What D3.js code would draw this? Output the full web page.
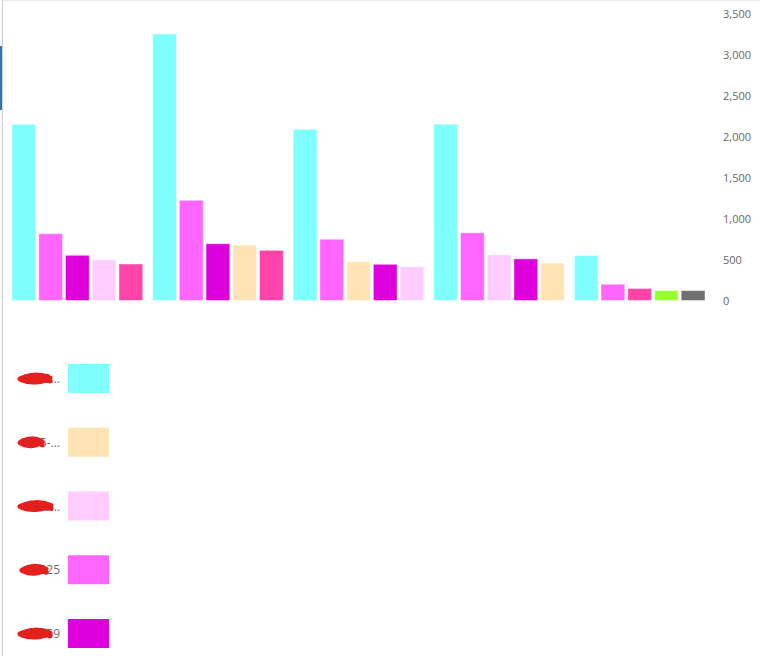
<!DOCTYPE html>
<html>
<head>
<meta charset="utf-8">
<script src="https://cdn.jsdelivr.net/npm/d3@7/dist/d3.min.js"></script>
<style>
  html, body { margin: 0; padding: 0; background: #fff; }
  svg { display: block; }
</style>
</head>
<body>
<svg id="chart" width="760" height="656"></svg>
<script>
// ---- data ----
const categories = ["Group 1", "Group 2", "Group 3", "Group 4", "Group 5"];
const seriesNames = ["2345...", "1015-...", "3120...", "31025", "2259", "Series F", "Series G", "Series H"];
const seriesColors = ["#80ffff", "#ffe4b5", "#ffccff", "#ff66ff", "#dd00dd", "#ff44aa", "#99ff33", "#707070"];
// values per series across the five categories (null = not present)
const valuesCyan      = [2152, 3256, 2091, 2154, 550];
const valuesBeige     = [null, 678, 474, 456, null];
const valuesLightPink = [495, null, 413, 558, null];
const valuesMagenta   = [816, 1224, 748, 827, 199];
const valuesPurple    = [552, 694, 442, 509, null];
const valuesHotPink   = [446, 613, null, null, 147];
const valuesGreen     = [null, null, null, null, 122];
const valuesGray      = [null, null, null, null, 121];
const seriesValues = [valuesCyan, valuesBeige, valuesLightPink, valuesMagenta, valuesPurple, valuesHotPink, valuesGreen, valuesGray];
const yTicks = [0, 500, 1000, 1500, 2000, 2500, 3000, 3500];
const legendCount = 5;

// ---- build per-category bars, sorted descending ----
const groups = categories.map((c, ci) => {
  const items = seriesValues.map((vals, si) => ({ series: si, value: vals[ci] }))
    .filter(d => d.value != null)
    .sort((a, b) => b.value - a.value);
  return { category: c, items };
});

const svg = d3.select("#chart");
const W = 760, H = 656;

// frame decorations
svg.append("line").attr("x1", 3).attr("x2", W).attr("y1", 0.5).attr("y2", 0.5)
  .attr("stroke", "#ececec").attr("stroke-width", 1);
svg.append("line").attr("x1", 2.5).attr("x2", 2.5).attr("y1", 0).attr("y2", H)
  .attr("stroke", "#cfcfcf").attr("stroke-width", 1.2);
svg.append("rect").attr("x", 0).attr("y", 46).attr("width", 2).attr("height", 64)
  .attr("fill", "#2e75b6");

// scales
const y = d3.scaleLinear().domain([0, 3500]).range([300.5, 14]);
const x0 = d3.scaleBand().domain(categories).range([12, 705]).paddingInner(0.07).paddingOuter(0);

// right axis labels
const axis = d3.axisRight(y).tickValues(yTicks).tickSize(0).tickPadding(0).tickFormat(d3.format(","));
const gAxis = svg.append("g").attr("transform", "translate(723,0)").call(axis);
gAxis.select(".domain").remove();
gAxis.selectAll("text")
  .attr("fill", "#6b6460")
  .style("font-family", "'Open Sans', 'Noto Sans', sans-serif")
  .style("font-size", "11px");

// bars
groups.forEach(g => {
  const x1 = d3.scaleBand().domain(d3.range(g.items.length)).range([0, x0.bandwidth()]).paddingInner(0.11);
  svg.append("g").attr("transform", `translate(${x0(g.category)},0)`)
    .selectAll("rect").data(g.items).join("rect")
    .attr("x", (d, i) => x1(i))
    .attr("width", x1.bandwidth())
    .attr("y", d => y(d.value))
    .attr("height", d => y(0) - y(d.value))
    .attr("fill", d => seriesColors[d.series])
    .attr("stroke", "rgba(255,255,255,0.45)")
    .attr("stroke-width", 1);
});

// legend
const legendY = d3.scaleLinear().domain([0, legendCount - 1]).range([364, 619]);
const legend = svg.append("g");
const li = legend.selectAll("g").data(d3.range(legendCount)).join("g")
  .attr("transform", i => `translate(0,${legendY(i)})`);
li.append("rect").attr("x", 68).attr("y", 0).attr("width", 41).attr("height", 29)
  .attr("fill", i => seriesColors[i]);
li.append("text").attr("x", 60).attr("y", 19).attr("text-anchor", "end")
  .attr("fill", "#6b6b6b")
  .style("font-family", "'Open Sans', 'Noto Sans', sans-serif")
  .style("font-size", "12px")
  .text(i => seriesNames[i]);
// red redaction scribbles over the legend labels
const scribbleWidths = [30, 22, 31, 24, 30];
const scribbleStart = [20, 20, 20, 22, 20];
li.append("path")
  .attr("d", (i) => {
    const w = scribbleWidths[i], x = scribbleStart[i], yy = 15;
    return `M${x},${yy} C${x + w * 0.3},${yy - 5} ${x + w * 0.7},${yy - 5} ${x + w},${yy - 1}
            C${x + w * 0.7},${yy + 4} ${x + w * 0.3},${yy + 4} ${x + 2},${yy + 1}
            C${x + w * 0.4},${yy - 2} ${x + w * 0.8},${yy - 1} ${x + w},${yy + 2}`;
  })
  .attr("fill", "none").attr("stroke", "#e3201e").attr("stroke-width", 5)
  .attr("stroke-linecap", "round").attr("stroke-linejoin", "round");
</script>
</body>
</html>
